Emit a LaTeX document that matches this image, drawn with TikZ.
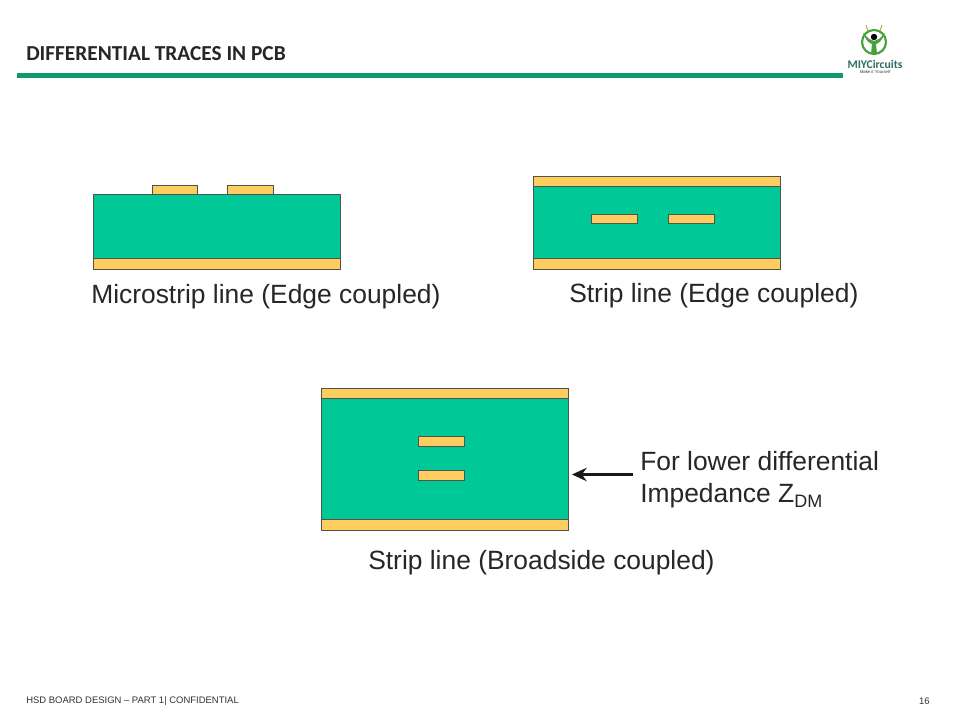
\documentclass[tikz,border=0pt]{standalone}
\usepackage{fontspec}
\setmainfont{Liberation Sans}
\newfontfamily\titlefont{Carlito}
\usetikzlibrary{arrows.meta}
\definecolor{boardgreen}{RGB}{0,201,151}
\definecolor{copper}{RGB}{255,204,96}
\definecolor{edgegray}{RGB}{75,85,75}
\definecolor{rulegreen}{RGB}{15,155,105}
\definecolor{logogreen}{RGB}{70,160,60}
\definecolor{logoblue}{RGB}{45,110,100}
\tikzset{
  x=0.75pt,y=-0.75pt,
  board/.style={draw=edgegray,line width=0.7pt,fill=boardgreen},
  metal/.style={draw=edgegray,line width=0.7pt,fill=copper},
  lbl/.style={inner sep=0pt,anchor=west,text=black!85,font=\fontsize{19.8}{23}\selectfont},
  foot/.style={inner sep=0pt,text=black!80,font=\fontsize{7.1}{9}\selectfont},
}
\begin{document}
\begin{tikzpicture}
\useasboundingbox (0,0) rectangle (960,720);
\fill[white] (0,0) rectangle (960,720);
% header
\node[inner sep=0pt,anchor=west,text=black!85,font=\titlefont\bfseries\fontsize{16}{19}\selectfont] (title) at (26,54) {DIFFERENTIAL TRACES IN PCB};
\fill[rulegreen] (17,73.5) rectangle (843,78);
% logo
\draw[logogreen,line width=1.6pt] (874,42) circle (12);
\fill[black] (874,37) circle (3.2);
\fill[logogreen] (863,33) .. controls (867,43) and (870,43) .. (872,44) -- (871,54) -- (877,54) -- (876,44) .. controls (878,43) and (881,43) .. (885,33) -- (879,39) -- (874,41) -- (869,39) -- cycle;
\draw[copper!80!black,line width=0.8pt] (868,31) -- (866,25) (880,31) -- (882,25);
\node[inner sep=0pt,text=logoblue,font=\titlefont\bfseries\fontsize{8.8}{10}\selectfont] (logotext) at (875,64) {MIYCircuits};
\node[inner sep=0pt,text=black!80,font=\itshape\fontsize{3.2}{4}\selectfont] (logosub) at (875,72) {Make it Yourself};
% microstrip
\path[metal] (152.5,185) rectangle (197.5,194.5);
\path[metal] (227.5,185) rectangle (273,194.5);
\path[board] (93.5,194.5) rectangle (340,258.5);
\path[metal] (93.5,258.5) rectangle (340,269);
\node[lbl] (l1) at (91,296.5) {Microstrip line (Edge coupled)};
% strip edge
\path[board] (533.5,186.5) rectangle (780,258.5);
\path[metal] (533.5,176.5) rectangle (780,186.5);
\path[metal] (533.5,258.5) rectangle (780,269);
\path[metal] (591.5,214.5) rectangle (637,223.5);
\path[metal] (668.5,214.5) rectangle (714,223.5);
\node[lbl] (l2) at (569,295.5) {Strip line (Edge coupled)};
% broadside
\path[board] (321.5,398.5) rectangle (568,519.5);
\path[metal] (321.5,388) rectangle (568,398.5);
\path[metal] (321.5,519.5) rectangle (568,530);
\path[metal] (418,436.5) rectangle (464,446);
\path[metal] (418,470.5) rectangle (464,480);
\node[lbl] (l3) at (368,563) {Strip line (Broadside coupled)};
\coordinate (boardedge) at (572,474.5);
\coordinate (arrowstart) at (633,474.5);
\draw[-{Stealth[length=11pt,width=10pt]},line width=2pt,black!90] (arrowstart) -- (boardedge);
\node[lbl] (l4) at (640,461.5) {For lower differential};
\node[lbl] (l5) at (640,496) {Impedance Z\raisebox{-3.5pt}{\fontsize{13.5}{15}\selectfont DM}};
% footer
\node[foot,anchor=west] (f1) at (26,701) {HSD BOARD DESIGN -- PART 1| CONFIDENTIAL};
\node[foot,anchor=east] (f2) at (930,701) {16};
\end{tikzpicture}
\end{document}
